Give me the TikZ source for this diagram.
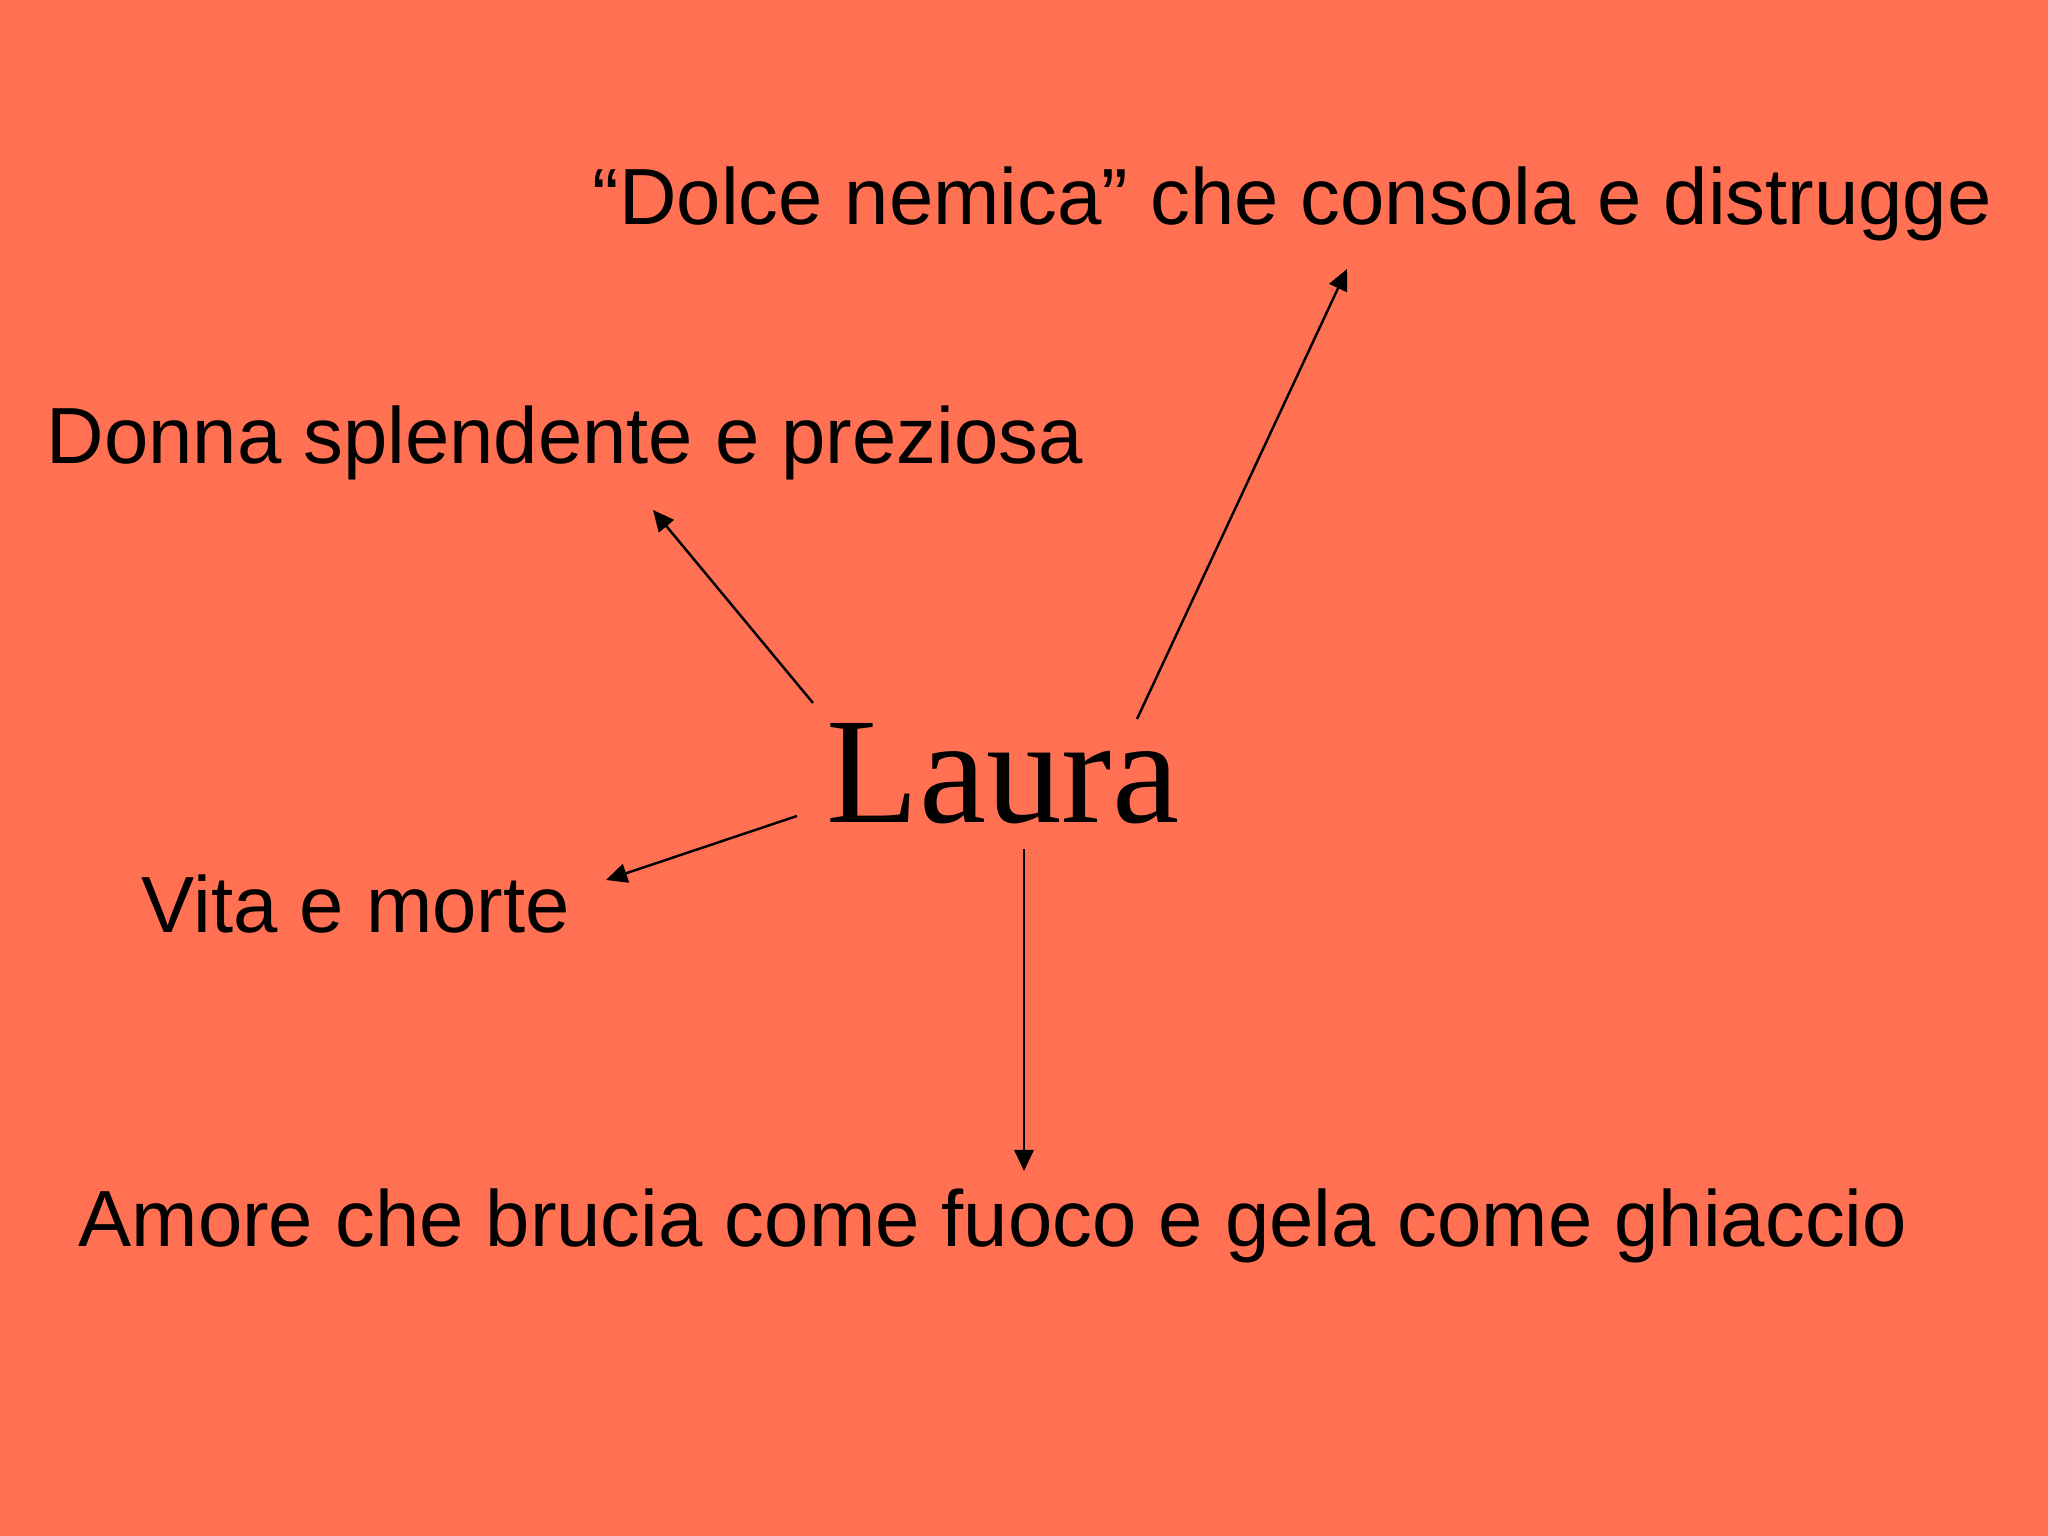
\documentclass[tikz,border=0pt]{standalone}
\usepackage{fontspec}
\setmainfont{Liberation Sans}
\newfontfamily\timesfont{Liberation Serif}
\usetikzlibrary{arrows.meta}
\definecolor{bgsalmon}{HTML}{FF7152}
\tikzset{
  lbl/.style={anchor=base west, inner sep=0pt, font=\fontsize{22.65pt}{27pt}\selectfont, text=black},
  conn/.style={draw=black, line width=0.7pt, -{Triangle[length=6pt,width=5.5pt]}},
}
\begin{document}
\begin{tikzpicture}[x=0.01cm,y=0.01cm]
\fill[bgsalmon] (0,0) rectangle (2048,1536);
\useasboundingbox (0,0) rectangle (2048,1536);
% texts (y = 1536 - pixel y)
\node[lbl] (dolce) at (592,1311) {“Dolce nemica” che consola e distrugge};
\node[lbl] (donna) at (46,1072) {Donna splendente e preziosa};
\node[lbl] (vita) at (141,603) {Vita e morte};
\node[lbl] (amore) at (78,289) {Amore che brucia come fuoco e gela come ghiaccio};
\node[anchor=base west, inner sep=0pt, font=\timesfont\fontsize{43pt}{50pt}\selectfont] (laura) at (826,713) {Laura};
% connector endpoints
\coordinate (s1) at (813,833);
\coordinate (t1) at (653,1026);
\coordinate (s2) at (1137,817);
\coordinate (t2) at (1347,1267);
\coordinate (s3) at (797,720);
\coordinate (t3) at (606,656);
\coordinate (s4) at (1024,687);
\coordinate (t4) at (1024,365);
\draw[conn] (s1) -- (t1);
\draw[conn] (s2) -- (t2);
\draw[conn] (s3) -- (t3);
\draw[conn] (s4) -- (t4);
\end{tikzpicture}
\end{document}
